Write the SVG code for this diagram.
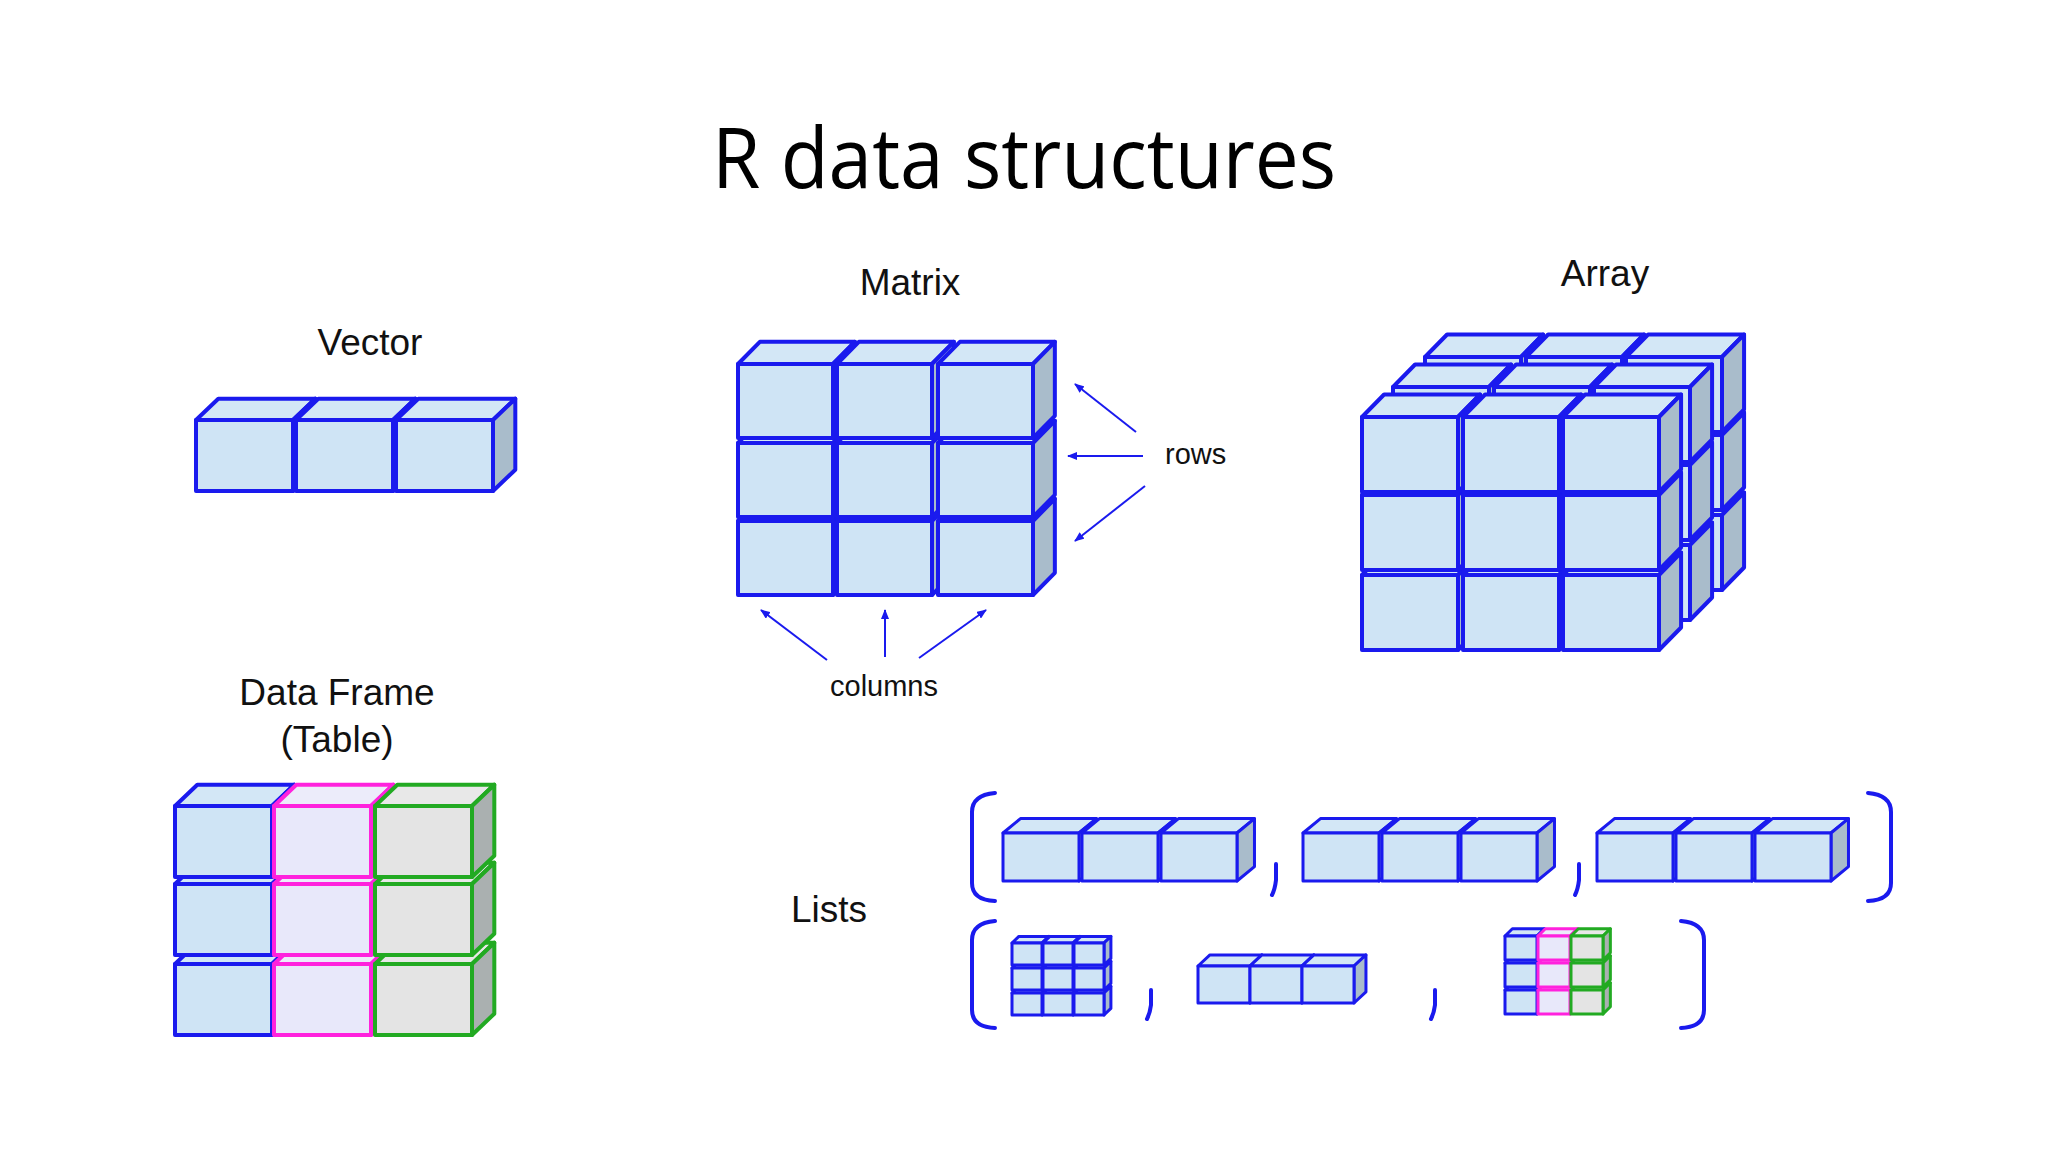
<svg xmlns="http://www.w3.org/2000/svg" width="2048" height="1152" viewBox="0 0 2048 1152">
<style>
.cube path,.cube rect{vector-effect:non-scaling-stroke;stroke-linejoin:round}
.lbl{font-family:"Liberation Sans",Arial,sans-serif;fill:#111}
.br{fill:none;stroke:#1a1aee;stroke-width:4;stroke-linecap:round}
.ar{stroke:#1a1aee;stroke-width:2;fill:none;marker-end:url(#ah)}
</style>
<defs>
<marker id="ah" markerWidth="10" markerHeight="8" refX="9" refY="4" orient="auto" markerUnits="userSpaceOnUse"><path d="M0,0 L10,4 L0,8Z" fill="#1a1aee"/></marker>
<g id="cb" class="cube" stroke="#1a1aee" stroke-width="4"><path d="M0,0 L23,-30 L123,-30 L100,0Z" fill="#d3e7f6"/><path d="M100,0 L123,-30 L123,70 L100,100Z" fill="#a9bccb"/><rect width="100" height="100" fill="#cfe4f5"/></g>
<g id="cp" class="cube" stroke="#ff22dd" stroke-width="4"><path d="M0,0 L23,-30 L123,-30 L100,0Z" fill="#ececfa"/><path d="M100,0 L123,-30 L123,70 L100,100Z" fill="#c4c4d4"/><rect width="100" height="100" fill="#e8e8fa"/></g>
<g id="cg" class="cube" stroke="#22aa22" stroke-width="4"><path d="M0,0 L23,-30 L123,-30 L100,0Z" fill="#e8e8e8"/><path d="M100,0 L123,-30 L123,70 L100,100Z" fill="#aab0b0"/><rect width="100" height="100" fill="#e4e4e4"/></g>
<g id="cbs" class="cube" stroke="#1a1aee" stroke-width="3"><path d="M0,0 L23,-30 L123,-30 L100,0Z" fill="#d3e7f6"/><path d="M100,0 L123,-30 L123,70 L100,100Z" fill="#a9bccb"/><rect width="100" height="100" fill="#cfe4f5"/></g>
<g id="cps" class="cube" stroke="#ff22dd" stroke-width="3"><path d="M0,0 L23,-30 L123,-30 L100,0Z" fill="#ececfa"/><path d="M100,0 L123,-30 L123,70 L100,100Z" fill="#c4c4d4"/><rect width="100" height="100" fill="#e8e8fa"/></g>
<g id="cgs" class="cube" stroke="#22aa22" stroke-width="3"><path d="M0,0 L23,-30 L123,-30 L100,0Z" fill="#e8e8e8"/><path d="M100,0 L123,-30 L123,70 L100,100Z" fill="#aab0b0"/><rect width="100" height="100" fill="#e4e4e4"/></g>
</defs>
<rect width="2048" height="1152" fill="#ffffff"/>
<text x="1024" y="188" text-anchor="middle" font-family="'Open Sans','Liberation Sans',sans-serif" font-size="84" textLength="624" lengthAdjust="spacingAndGlyphs" fill="#000">R data structures</text>

<g id="vector">
<text class="lbl" x="370" y="355" font-size="37" text-anchor="middle">Vector</text>
<use href="#cb" transform="translate(196,420) scale(.97,.71)"/>
<use href="#cb" transform="translate(296,420) scale(.97,.71)"/>
<use href="#cb" transform="translate(396,420) scale(.97,.71)"/>
</g>

<g id="matrix">
<text class="lbl" x="910" y="295" font-size="37" text-anchor="middle">Matrix</text>
<use href="#cb" transform="translate(738,521) scale(.95,.74)"/>
<use href="#cb" transform="translate(837,521) scale(.95,.74)"/>
<use href="#cb" transform="translate(938,521) scale(.95,.74)"/>
<use href="#cb" transform="translate(738,443) scale(.95,.74)"/>
<use href="#cb" transform="translate(837,443) scale(.95,.74)"/>
<use href="#cb" transform="translate(938,443) scale(.95,.74)"/>
<use href="#cb" transform="translate(738,364) scale(.95,.74)"/>
<use href="#cb" transform="translate(837,364) scale(.95,.74)"/>
<use href="#cb" transform="translate(938,364) scale(.95,.74)"/>
<text class="lbl" x="1165" y="464" font-size="29">rows</text>
<text class="lbl" x="884" y="696" font-size="29" text-anchor="middle">columns</text>
</g>

<g id="connectors">
<line class="ar" x1="1136" y1="432" x2="1075" y2="384"/>
<line class="ar" x1="1143" y1="456" x2="1068" y2="456"/>
<line class="ar" x1="1145" y1="486" x2="1075" y2="541"/>
<line class="ar" x1="827" y1="660" x2="761" y2="610"/>
<line class="ar" x1="885" y1="657" x2="885" y2="610"/>
<line class="ar" x1="919" y1="658" x2="986" y2="610"/>
</g>

<g id="array">
<text class="lbl" x="1605" y="286" font-size="37" text-anchor="middle">Array</text>
<g transform="translate(63,-60)">
<use href="#cb" transform="translate(1362,575) scale(.96,.75)"/><use href="#cb" transform="translate(1463,575) scale(.96,.75)"/><use href="#cb" transform="translate(1563,575) scale(.96,.75)"/>
<use href="#cb" transform="translate(1362,495) scale(.96,.75)"/><use href="#cb" transform="translate(1463,495) scale(.96,.75)"/><use href="#cb" transform="translate(1563,495) scale(.96,.75)"/>
<use href="#cb" transform="translate(1362,417) scale(.96,.75)"/><use href="#cb" transform="translate(1463,417) scale(.96,.75)"/><use href="#cb" transform="translate(1563,417) scale(.96,.75)"/>
</g>
<g transform="translate(31,-30)">
<use href="#cb" transform="translate(1362,575) scale(.96,.75)"/><use href="#cb" transform="translate(1463,575) scale(.96,.75)"/><use href="#cb" transform="translate(1563,575) scale(.96,.75)"/>
<use href="#cb" transform="translate(1362,495) scale(.96,.75)"/><use href="#cb" transform="translate(1463,495) scale(.96,.75)"/><use href="#cb" transform="translate(1563,495) scale(.96,.75)"/>
<use href="#cb" transform="translate(1362,417) scale(.96,.75)"/><use href="#cb" transform="translate(1463,417) scale(.96,.75)"/><use href="#cb" transform="translate(1563,417) scale(.96,.75)"/>
</g>
<use href="#cb" transform="translate(1362,575) scale(.96,.75)"/><use href="#cb" transform="translate(1463,575) scale(.96,.75)"/><use href="#cb" transform="translate(1563,575) scale(.96,.75)"/>
<use href="#cb" transform="translate(1362,495) scale(.96,.75)"/><use href="#cb" transform="translate(1463,495) scale(.96,.75)"/><use href="#cb" transform="translate(1563,495) scale(.96,.75)"/>
<use href="#cb" transform="translate(1362,417) scale(.96,.75)"/><use href="#cb" transform="translate(1463,417) scale(.96,.75)"/><use href="#cb" transform="translate(1563,417) scale(.96,.75)"/>
</g>

<g id="dataframe">
<text class="lbl" x="337" y="705" font-size="37" text-anchor="middle">Data Frame</text>
<text class="lbl" x="337" y="752" font-size="37" text-anchor="middle">(Table)</text>
<use href="#cb" transform="translate(175,964) scale(.97,.71)"/><use href="#cp" transform="translate(274,964) scale(.97,.71)"/><use href="#cg" transform="translate(375,964) scale(.97,.71)"/>
<use href="#cb" transform="translate(175,884) scale(.97,.71)"/><use href="#cp" transform="translate(274,884) scale(.97,.71)"/><use href="#cg" transform="translate(375,884) scale(.97,.71)"/>
<use href="#cb" transform="translate(175,806) scale(.97,.71)"/><use href="#cp" transform="translate(274,806) scale(.97,.71)"/><use href="#cg" transform="translate(375,806) scale(.97,.71)"/>
</g>

<g id="lists">
<text class="lbl" x="829" y="922" font-size="37" text-anchor="middle">Lists</text>
<path class="br" d="M995,793 Q972,795 972,812 L972,883 Q972,900 995,901"/>
<path class="br" d="M1868,793 Q1891,795 1891,812 L1891,883 Q1891,900 1868,901"/>
<path class="br" d="M995,921 Q972,923 972,940 L972,1010 Q972,1027 995,1028"/>
<path class="br" d="M1681,921 Q1704,923 1704,940 L1704,1010 Q1704,1027 1681,1028"/>
<path class="br" d="M1276,864 L1276,880 Q1275,889 1272,895"/>
<path class="br" d="M1579,864 L1579,880 Q1578,889 1575,895"/>
<path class="br" d="M1151,990 L1151,1005 Q1150,1013 1147,1019"/>
<path class="br" d="M1435,990 L1435,1005 Q1434,1013 1431,1019"/>
<g transform="translate(1003,833)">
<use href="#cbs" transform="translate(0,0) scale(.76,.48)"/><use href="#cbs" transform="translate(79,0) scale(.76,.48)"/><use href="#cbs" transform="translate(158,0) scale(.76,.48)"/>
</g>
<g transform="translate(1303,833)">
<use href="#cbs" transform="translate(0,0) scale(.76,.48)"/><use href="#cbs" transform="translate(79,0) scale(.76,.48)"/><use href="#cbs" transform="translate(158,0) scale(.76,.48)"/>
</g>
<g transform="translate(1597,833)">
<use href="#cbs" transform="translate(0,0) scale(.76,.48)"/><use href="#cbs" transform="translate(79,0) scale(.76,.48)"/><use href="#cbs" transform="translate(158,0) scale(.76,.48)"/>
</g>
<g transform="translate(1012,943)">
<use href="#cbs" transform="translate(0,50) scale(.30,.22)"/><use href="#cbs" transform="translate(31,50) scale(.30,.22)"/><use href="#cbs" transform="translate(62,50) scale(.30,.22)"/>
<use href="#cbs" transform="translate(0,25) scale(.30,.22)"/><use href="#cbs" transform="translate(31,25) scale(.30,.22)"/><use href="#cbs" transform="translate(62,25) scale(.30,.22)"/>
<use href="#cbs" transform="translate(0,0) scale(.30,.22)"/><use href="#cbs" transform="translate(31,0) scale(.30,.22)"/><use href="#cbs" transform="translate(62,0) scale(.30,.22)"/>
</g>
<g transform="translate(1198,966)">
<use href="#cbs" transform="translate(0,0) scale(.52,.37)"/><use href="#cbs" transform="translate(52,0) scale(.52,.37)"/><use href="#cbs" transform="translate(104,0) scale(.52,.37)"/>
</g>
<g transform="translate(1505,936)">
<use href="#cbs" transform="translate(0,54) scale(.32,.24)"/><use href="#cps" transform="translate(33,54) scale(.32,.24)"/><use href="#cgs" transform="translate(66,54) scale(.32,.24)"/>
<use href="#cbs" transform="translate(0,27) scale(.32,.24)"/><use href="#cps" transform="translate(33,27) scale(.32,.24)"/><use href="#cgs" transform="translate(66,27) scale(.32,.24)"/>
<use href="#cbs" transform="translate(0,0) scale(.32,.24)"/><use href="#cps" transform="translate(33,0) scale(.32,.24)"/><use href="#cgs" transform="translate(66,0) scale(.32,.24)"/>
</g>
</g>
</svg>
